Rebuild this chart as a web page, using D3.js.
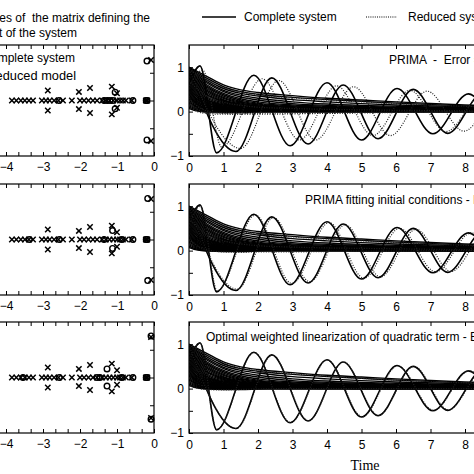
<!DOCTYPE html>
<html lang="en"><head>
<meta charset="utf-8">
<title>eigenvalues and responses</title>
<script src="https://cdn.jsdelivr.net/npm/d3@7"></script>
<style>
  body { margin: 0; background: #fff; }
  text { font-family: "Liberation Sans", Arial, sans-serif; font-size: 12px; fill: #000; }
</style>
</head>
<body>
<svg width="474" height="474"></svg>
<script>

// ---- eigenvalues (left column) ----
// complete system: x markers, same in every row
var completeReal = [-3.84, -3.72, -3.6, -3.49, -3.38, -3.27, -3.03, -2.92, -2.82, -2.7, -2.58, -2.46,
                    -2.22, -2.0, -1.89, -1.77, -1.65, -1.54, -1.4, -1.3, -1.2, -1.1, -1.0, -0.92,
                    -0.84, -0.76, -0.6, -0.22, -0.2, -0.18];
var completeCx = [-2.87, -2.03, -1.73, -1.14, -1.0, -0.08];
var completeCy = [0.36, 0.31, 0.45, 0.5, 0.26, 1.46];

// reduced models: o markers, one set per row
var primaReal = [-2.57, -1.35, -1.27, -1.19, -1.11, -0.57, -0.21, -0.19];
var primaCx = [-1.05, -0.19];
var primaCy = [0.3, 1.42];

var fitReal = [-3.37, -2.56, -1.35, -0.87, -0.57, -0.21, -0.19];
var fitCx = [-1.12, -0.17];
var fitCy = [0.32, 1.48];

var optReal = [-3.54, -2.56, -1.54, -1.46, -0.87, -0.57, -0.21, -0.19];
var optCx = [-1.27, -0.08];
var optCy = [0.31, 1.5];

var eigTicks = [-4, -3, -2, -1, 0];
var eigLabels = ["\u22124", "\u22123", "\u22122", "\u22121", "0"];

// ---- time responses (right column) ----
var timeTicks = [0, 1, 2, 3, 4, 5, 6, 7, 8, 9, 10];
var timeLabels = ["0", "1", "2", "3", "4", "5", "6", "7", "8", "9", "10"];
var respTicks = [-1, -0.5, 0, 0.5, 1];
var respLabels = {"-1": "\u22121", "0": "0", "1": "1"};

// complete system oscillating modes (extrema)
var oscAT = [0, 0.32, 0.8, 1.88, 2.93, 4.0, 5.0, 6.03, 7.07, 8.1, 9.13, 10.15];
var oscAV = [0.6, 1.03, -0.93, 0.82, -0.77, 0.65, -0.64, 0.52, -0.5, 0.4, -0.38, 0.33];
var oscBT = [0, 1.36, 2.4, 3.45, 4.47, 5.48, 6.5, 7.5, 8.52, 9.55, 10.55];
var oscBV = [0.98, -0.9, 0.76, -0.73, 0.6, -0.61, 0.5, -0.49, 0.42, -0.38, 0.32];

// complete system decaying states
var decayT = [0, 0.25, 0.5, 1, 1.5, 2, 3, 4, 5, 6, 8, 10];
var completeDecay = [
  [1.00, 0.90, 0.80, 0.60, 0.49, 0.43, 0.36, 0.30, 0.26, 0.22, 0.15, 0.10],
  [0.98, 0.87, 0.76, 0.56, 0.45, 0.39, 0.32, 0.27, 0.23, 0.19, 0.13, 0.09],
  [0.96, 0.84, 0.72, 0.52, 0.41, 0.35, 0.27, 0.22, 0.18, 0.15, 0.11, 0.08],
  [0.94, 0.81, 0.68, 0.48, 0.37, 0.30, 0.22, 0.17, 0.14, 0.12, 0.09, 0.07],
  [0.92, 0.78, 0.65, 0.45, 0.33, 0.26, 0.18, 0.14, 0.12, 0.10, 0.08, 0.06],
  [0.90, 0.75, 0.61, 0.41, 0.29, 0.22, 0.15, 0.12, 0.10, 0.09, 0.07, 0.05],
  [0.88, 0.72, 0.58, 0.38, 0.26, 0.19, 0.13, 0.10, 0.09, 0.08, 0.06, 0.05],
  [0.86, 0.69, 0.55, 0.35, 0.23, 0.17, 0.11, 0.09, 0.08, 0.07, 0.05, 0.04],
  [0.84, 0.66, 0.52, 0.32, 0.21, 0.15, 0.10, 0.08, 0.07, 0.06, 0.05, 0.04],
  [0.82, 0.63, 0.49, 0.30, 0.19, 0.13, 0.09, 0.07, 0.06, 0.05, 0.04, 0.03],
  [0.79, 0.60, 0.46, 0.27, 0.17, 0.12, 0.08, 0.06, 0.05, 0.05, 0.04, 0.03],
  [0.76, 0.57, 0.43, 0.25, 0.15, 0.11, 0.07, 0.06, 0.05, 0.04, 0.03, 0.03],
  [0.73, 0.54, 0.40, 0.23, 0.14, 0.10, 0.07, 0.05, 0.04, 0.04, 0.03, 0.02],
  [0.70, 0.51, 0.37, 0.21, 0.13, 0.09, 0.06, 0.05, 0.04, 0.03, 0.03, 0.02],
  [0.67, 0.48, 0.34, 0.19, 0.12, 0.08, 0.06, 0.04, 0.04, 0.03, 0.02, 0.02],
  [0.64, 0.45, 0.31, 0.17, 0.11, 0.07, 0.05, 0.04, 0.03, 0.03, 0.02, 0.01],
  [0.61, 0.42, 0.28, 0.15, 0.10, 0.07, 0.05, 0.04, 0.03, 0.03, 0.02, 0.01],
  [0.58, 0.39, 0.26, 0.14, 0.09, 0.06, 0.04, 0.03, 0.03, 0.02, 0.02, 0.01],
  [0.55, 0.36, 0.24, 0.12, 0.08, 0.06, 0.04, 0.03, 0.03, 0.02, 0.01, 0.01],
  [0.52, 0.33, 0.22, 0.11, 0.07, 0.05, 0.04, 0.03, 0.02, 0.02, 0.01, 0.01],
  [0.49, 0.31, 0.20, 0.10, 0.06, 0.04, 0.03, 0.03, 0.02, 0.02, 0.01, 0.00],
  [0.46, 0.28, 0.18, 0.09, 0.05, 0.04, 0.03, 0.02, 0.02, 0.01, 0.01, 0.00],
  [0.43, 0.26, 0.16, 0.08, 0.05, 0.03, 0.02, 0.02, 0.01, 0.01, 0.01, 0.00],
  [0.40, 0.23, 0.14, 0.07, 0.04, 0.03, 0.02, 0.02, 0.01, 0.01, 0.00, 0.00],
  [0.37, 0.21, 0.12, 0.06, 0.03, 0.02, 0.02, 0.01, 0.01, 0.01, 0.00, 0.00],
  [0.34, 0.19, 0.11, 0.05, 0.03, 0.02, 0.01, 0.01, 0.01, 0.00, 0.00, 0.00],
  [0.31, 0.17, 0.09, 0.04, 0.02, 0.02, 0.01, 0.01, 0.00, 0.00, 0.00, 0.00],
  [0.28, 0.15, 0.08, 0.03, 0.02, 0.01, 0.01, 0.01, 0.00, 0.00, 0.00, 0.00],
  [0.25, 0.13, 0.07, 0.03, 0.02, 0.01, 0.01, 0.00, 0.00, 0.00, 0.00, 0.00],
  [0.22, 0.11, 0.06, 0.02, 0.01, 0.01, 0.00, 0.00, 0.00, 0.00, 0.00, 0.00],
  [0.19, 0.09, 0.04, 0.02, 0.01, 0.00, 0.00, 0.00, 0.00, 0.00, 0.00, 0.00],
  [0.16, 0.07, 0.03, 0.01, 0.00, 0.00, 0.00, 0.00, 0.00, 0.00, 0.00, 0.00],
  [0.13, 0.05, 0.02, 0.00, 0.00, 0.00, 0.00, 0.00, 0.00, 0.00, 0.00, 0.00],
  [0.10, 0.03, 0.00, -0.01, -0.01, 0.00, 0.00, 0.00, 0.00, 0.00, 0.00, 0.00],
  [0.07, 0.01, -0.01, -0.02, -0.02, -0.01, 0.00, 0.00, 0.00, 0.00, 0.00, 0.00]
];

// reduced models, one set per row
var primaAT = [0, 0.4, 0.95, 2.12, 3.2, 4.28, 5.33, 6.4, 7.45, 8.52, 9.6, 10.65];
var primaAV = [0.58, 0.93, -0.8, 0.74, -0.64, 0.58, -0.54, 0.48, -0.45, 0.38, -0.35, 0.3];
var primaBT = [0, 1.5, 2.6, 3.67, 4.77, 5.84, 6.9, 7.97, 9.02, 10.1];
var primaBV = [0.95, -0.83, 0.7, -0.64, 0.56, -0.54, 0.46, -0.44, 0.38, -0.34];
var primaDecay = [
  [0.95, 0.83, 0.72, 0.55, 0.44, 0.38, 0.31, 0.26, 0.22, 0.18, 0.12, 0.08],
  [0.70, 0.50, 0.36, 0.21, 0.14, 0.10, 0.07, 0.05, 0.04, 0.03, 0.02, 0.01],
  [0.30, 0.12, 0.02, -0.04, -0.06, -0.06, -0.05, -0.04, -0.03, -0.02, -0.01, 0.00],
  [0.12, 0.00, -0.04, -0.06, -0.05, -0.04, -0.03, -0.03, -0.02, -0.02, -0.01, 0.00],
  [0.20, 0.05, -0.02, -0.03, -0.03, -0.02, -0.02, -0.02, -0.01, -0.01, -0.01, 0.00]
];

var fitAT = [0, 0.33, 0.82, 1.92, 2.98, 4.06, 5.07, 6.1, 7.15, 8.18, 9.22, 10.25];
var fitAV = [0.6, 1.0, -0.9, 0.8, -0.74, 0.63, -0.62, 0.5, -0.48, 0.4, -0.37, 0.3];
var fitBT = [0, 1.4, 2.45, 3.5, 4.53, 5.55, 6.58, 7.6, 8.62, 9.65];
var fitBV = [0.97, -0.87, 0.74, -0.7, 0.58, -0.59, 0.48, -0.47, 0.4, -0.36];
var fitDecay = [
  [0.97, 0.86, 0.74, 0.56, 0.44, 0.38, 0.31, 0.26, 0.22, 0.18, 0.12, 0.08],
  [0.72, 0.52, 0.38, 0.22, 0.15, 0.11, 0.08, 0.06, 0.05, 0.04, 0.02, 0.01],
  [0.25, 0.10, 0.02, -0.03, -0.04, -0.03, -0.03, -0.02, -0.01, -0.01, 0.00, 0.00]
];

var optAT = [0, 0.32, 0.8, 1.89, 2.94, 4.01, 5.02, 6.05, 7.09, 8.12, 9.15, 10.17];
var optAV = [0.6, 1.02, -0.92, 0.81, -0.76, 0.64, -0.63, 0.51, -0.49, 0.4, -0.37, 0.32];
var optBT = [0, 1.37, 2.41, 3.46, 4.48, 5.49, 6.52, 7.52, 8.54, 9.57];
var optBV = [0.98, -0.9, 0.75, -0.72, 0.6, -0.6, 0.5, -0.48, 0.41, -0.37];
var optDecay = [
  [0.98, 0.87, 0.76, 0.58, 0.46, 0.40, 0.33, 0.28, 0.23, 0.19, 0.13, 0.09],
  [0.08, 0.01, -0.02, -0.03, -0.02, -0.01, 0.00, 0.00, 0.00, 0.00, 0.00, 0.00]
];

var rowTitles = ["PRIMA  -  Error =",
                 "PRIMA fitting initial conditions - Error =",
                 "Optimal weighted linearization of quadratic term - Error ="];
var titleX = [389, 305, 206];
var titleY = [64, 204, 341];

// ---- layout ----
var svg = d3.select("svg");
var rowTops = [45, 184, 322], rowH = 111;

var xEig = d3.scaleLinear().domain([-4, 0]).range([6, 154]);
var xT = d3.scaleLinear().domain([0, 10]).range([189, 534]);

function styleAxis(g) {
  g.select(".domain").remove();
  g.selectAll("line").attr("stroke", "#000").attr("stroke-width", 1);
  g.selectAll("text").attr("font-size", 12).attr("font-family", "Liberation Sans, Arial, sans-serif");
}

var xmark = "M-2.7,-2.7L2.7,2.7M-2.7,2.7L2.7,-2.7";

function drawEig(i, redReal, redCx, redCy) {
  var top = rowTops[i], bot = top + rowH;
  var y = d3.scaleLinear().domain([-2, 2]).range([bot, top]);
  var g = svg.append("g");
  var minor = d3.range(-14, 1).map(function(k) { return k / 3; });

  g.append("g").attr("transform", "translate(0," + bot + ")")
    .call(d3.axisBottom(xEig).tickValues(minor).tickSize(-4).tickFormat(""))
    .call(styleAxis);
  g.append("g").attr("transform", "translate(0," + bot + ")")
    .call(d3.axisBottom(xEig).tickValues(eigTicks).tickSize(0).tickPadding(6)
      .tickFormat(function(d, j) { return eigLabels[j]; }))
    .call(styleAxis);
  g.append("g").attr("transform", "translate(0," + top + ")")
    .call(d3.axisTop(xEig).tickValues(minor).tickSize(-4).tickFormat(""))
    .call(styleAxis);
  g.append("g").attr("transform", "translate(" + xEig(0) + ",0)")
    .call(d3.axisRight(y).tickValues([-1, 0, 1]).tickSize(-4).tickFormat(""))
    .call(styleAxis);

  g.append("rect")
    .attr("x", xEig(-4.6)).attr("y", top)
    .attr("width", xEig(0) - xEig(-4.6)).attr("height", rowH)
    .attr("fill", "none").attr("stroke", "#000").attr("stroke-width", 1.2);

  // complete system
  var pts = completeReal.map(function(r) { return [r, 0]; });
  completeCx.forEach(function(r, j) { pts.push([r, completeCy[j]]); pts.push([r, -completeCy[j]]); });
  g.selectAll("path.cx").data(pts).enter().append("path")
    .attr("class", "cx")
    .attr("d", xmark)
    .attr("transform", function(d) { return "translate(" + xEig(d[0]) + "," + y(d[1]) + ")"; })
    .attr("stroke", "#000").attr("stroke-width", 1.5).attr("fill", "none");

  // reduced model
  var rp = redReal.map(function(r) { return [r, 0]; });
  redCx.forEach(function(r, j) { rp.push([r, redCy[j]]); rp.push([r, -redCy[j]]); });
  g.selectAll("circle.ro").data(rp).enter().append("circle")
    .attr("class", "ro")
    .attr("cx", function(d) { return xEig(d[0]); })
    .attr("cy", function(d) { return y(d[1]); })
    .attr("r", 2.8)
    .attr("fill", "none").attr("stroke", "#000").attr("stroke-width", 1.4);
}

drawEig(0, primaReal, primaCx, primaCy);
drawEig(1, fitReal, fitCx, fitCy);
drawEig(2, optReal, optCx, optCy);

// left titles and legend
svg.append("text").attr("x", 150).attr("y", 22).attr("text-anchor", "end")
  .attr("xml:space", "preserve").text("Eigenvalues of  the matrix defining the");
svg.append("text").attr("x", 77).attr("y", 37).attr("text-anchor", "end")
  .text("linear part of the system");
svg.append("text").attr("x", 75).attr("y", 62).attr("text-anchor", "end").text("Complete system");
svg.append("text").attr("x", 76).attr("y", 80).attr("text-anchor", "end")
  .style("font-size", "12.8px").text("Reduced model");

// ---- right column ----
var line = d3.line().curve(d3.curveMonotoneX);

function drawResp(i, aT, aV, bT, bV, redDecay) {
  var top = rowTops[i], bot = top + rowH;
  var y = d3.scaleLinear().domain([-1, 1.5]).range([bot, top]);
  var g = svg.append("g");

  g.append("clipPath").attr("id", "clip" + i).append("rect")
    .attr("x", xT(0)).attr("y", top).attr("width", xT(10) - xT(0)).attr("height", rowH);
  var c = g.append("g").attr("clip-path", "url(#clip" + i + ")");

  function pathOf(ts, vs) {
    return line(ts.map(function(t, j) { return [xT(t), y(vs[j])]; }));
  }

  completeDecay.forEach(function(vs) {
    c.append("path").attr("d", pathOf(decayT, vs))
      .attr("fill", "none").attr("stroke", "#000").attr("stroke-width", 1.4);
  });
  c.append("path").attr("d", pathOf(oscAT, oscAV))
    .attr("fill", "none").attr("stroke", "#000").attr("stroke-width", 1.6);
  c.append("path").attr("d", pathOf(oscBT, oscBV))
    .attr("fill", "none").attr("stroke", "#000").attr("stroke-width", 1.6);

  redDecay.forEach(function(vs) {
    c.append("path").attr("d", pathOf(decayT, vs))
      .attr("fill", "none").attr("stroke", "#222").attr("stroke-width", 1.2)
      .attr("stroke-dasharray", "1,1.5");
  });
  c.append("path").attr("d", pathOf(aT, aV))
    .attr("fill", "none").attr("stroke", "#222").attr("stroke-width", 1.2)
    .attr("stroke-dasharray", "1,1.5");
  c.append("path").attr("d", pathOf(bT, bV))
    .attr("fill", "none").attr("stroke", "#222").attr("stroke-width", 1.2)
    .attr("stroke-dasharray", "1,1.5");

  g.append("g").attr("transform", "translate(0," + bot + ")")
    .call(d3.axisBottom(xT).tickValues(timeTicks).tickSize(-4).tickPadding(7)
      .tickFormat(function(d, j) { return timeLabels[j]; }))
    .call(styleAxis);
  g.append("g").attr("transform", "translate(0," + top + ")")
    .call(d3.axisTop(xT).tickValues(timeTicks).tickSize(-4).tickFormat(""))
    .call(styleAxis);
  g.append("g").attr("transform", "translate(" + xT(0) + ",0)")
    .call(d3.axisLeft(y).tickValues(respTicks).tickSize(-4).tickPadding(5)
      .tickFormat(function(d) { return respLabels[String(d)] || ""; }))
    .call(styleAxis);

  g.append("rect")
    .attr("x", xT(0)).attr("y", top)
    .attr("width", xT(10) - xT(0)).attr("height", rowH)
    .attr("fill", "none").attr("stroke", "#000").attr("stroke-width", 1.2);

  g.append("text").attr("x", titleX[i]).attr("y", titleY[i])
    .attr("xml:space", "preserve").text(rowTitles[i]);
}

drawResp(0, primaAT, primaAV, primaBT, primaBV, primaDecay);
drawResp(1, fitAT, fitAV, fitBT, fitBV, fitDecay);
drawResp(2, optAT, optAV, optBT, optBV, optDecay);

// top legend
svg.append("line").attr("x1", 202).attr("x2", 236).attr("y1", 17).attr("y2", 17)
  .attr("stroke", "#000").attr("stroke-width", 1.3);
svg.append("text").attr("x", 244).attr("y", 21).text("Complete system");
svg.append("line").attr("x1", 366).attr("x2", 397).attr("y1", 17).attr("y2", 17)
  .attr("stroke", "#000").attr("stroke-width", 1.2).attr("stroke-dasharray", "1,1.2");
svg.append("text").attr("x", 408).attr("y", 21).text("Reduced system");

svg.append("text").attr("x", 365).attr("y", 470).attr("text-anchor", "middle")
  .style("font-family", "'Liberation Serif', 'Times New Roman', serif").style("font-size", "14px")
  .text("Time");

</script>
</body>
</html>
